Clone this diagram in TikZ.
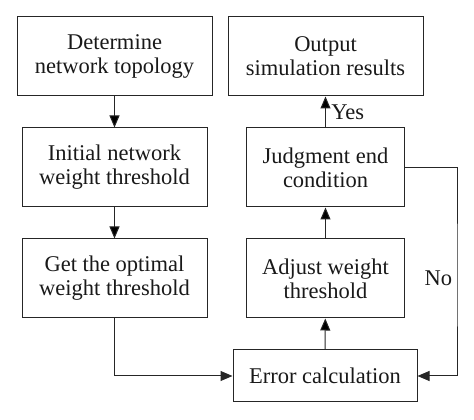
\documentclass[tikz,border=0pt]{standalone}
\usepackage{fontspec}
\setmainfont{Liberation Serif}
\usetikzlibrary{arrows.meta,positioning}

\begin{document}
\begin{tikzpicture}[
	flow/.style={-{Triangle[length=12pt,width=10pt]},line width=1pt,draw=black!85},
	node distance=111pt,
	step box/.style={rectangle,draw=black!85,line width=1pt,align=center,
		minimum height=79pt,font=\fontsize{22.5}{24}\selectfont,text=black!90},
	label text/.style={font=\fontsize{22.5}{24}\selectfont,text=black!90}
]
\useasboundingbox (0pt,0pt) rectangle (474pt,420pt);

\node[step box,minimum width=195pt] (topo) at (114.5pt,363.5pt) {Determine\\network topology};
\node[step box,minimum width=185pt] (init) [below of=topo] {Initial network\\weight threshold};
\node[step box,minimum width=185pt] (opt) [below of=init] {Get the optimal\\weight threshold};
\node[step box,minimum width=195pt] (output) at (325.5pt,363.5pt) {Output\\simulation results};
\node[step box,minimum width=158pt] (judge) [below of=output] {Judgment end\\condition};
\node[step box,minimum width=158pt] (adjust) [below of=judge] {Adjust weight\\threshold};
\node[step box,minimum width=184pt,minimum height=52pt] (error) at (325pt,44pt) {Error calculation};
\coordinate (loop) at (457pt,0pt);

\path[flow,every node/.style={label text}]
(topo) edge (init)
(init) edge (opt)
(error) edge (adjust)
(adjust) edge (judge)
(judge) edge node [right=2pt] {Yes} (output)
;
\draw[flow] (opt.south) |- (error.west);
\draw[flow] (judge.east) -| (loop |- adjust.east) node [label text,left=1pt] {No} |- (error.east);
\end{tikzpicture}
\end{document}
